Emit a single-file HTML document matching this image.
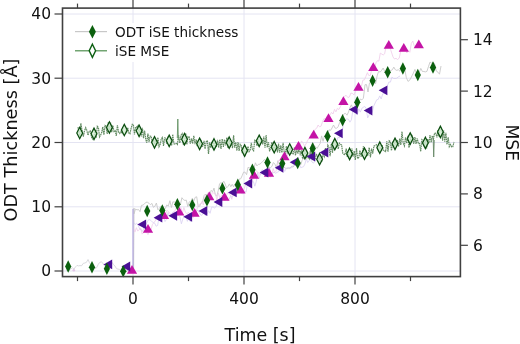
<!DOCTYPE html>
<html><head><meta charset="utf-8"><title>ODT thickness vs time</title>
<style>html,body{margin:0;padding:0;background:#fff;width:520px;height:344px;overflow:hidden}svg{display:block}</style>
</head><body>
<svg width="520" height="344" viewBox="0 0 520 344">
<line x1="133.0" y1="8.1" x2="133.0" y2="276.6" stroke="#e4e4f2" stroke-width="1"/>
<line x1="244.0" y1="8.1" x2="244.0" y2="276.6" stroke="#e4e4f2" stroke-width="1"/>
<line x1="355.0" y1="8.1" x2="355.0" y2="276.6" stroke="#e4e4f2" stroke-width="1"/>
<line x1="62.5" y1="271.0" x2="460.4" y2="271.0" stroke="#e4e4f2" stroke-width="1"/>
<line x1="62.5" y1="206.8" x2="460.4" y2="206.8" stroke="#e4e4f2" stroke-width="1"/>
<line x1="62.5" y1="142.5" x2="460.4" y2="142.5" stroke="#e4e4f2" stroke-width="1"/>
<line x1="62.5" y1="78.2" x2="460.4" y2="78.2" stroke="#e4e4f2" stroke-width="1"/>
<line x1="62.5" y1="14.0" x2="460.4" y2="14.0" stroke="#e4e4f2" stroke-width="1"/>
<path d="M66.0,269.9 L67.6,271.0 L69.2,270.3 L70.8,268.9 L72.4,267.8 L74.0,269.1 L75.5,266.9 L77.0,265.4 L78.5,265.9 L80.0,265.6 L81.6,265.8 L83.2,263.4 L84.8,263.0 L86.4,262.4 L88.0,259.5 L89.4,262.6 L90.8,264.6 L92.2,268.2 L93.6,268.5 L95.0,268.7 L96.7,267.6 L98.3,264.2 L100.0,262.2 L101.4,261.9 L102.8,263.1 L104.2,265.5 L105.6,266.9 L107.0,267.3 L108.7,263.8 L110.3,263.5 L112.0,262.2 L113.5,264.7 L115.0,266.0 L116.5,268.7 L118.0,269.1 L119.5,269.4 L121.0,270.5 L122.5,268.7 L124.0,269.0 L125.5,268.2 L127.0,271.2 L128.5,269.6 L130.0,269.6 L131.7,270.8 L133.3,270.0" fill="none" stroke="#d6d6da" stroke-width="0.9"/>
<path d="M133.6,270 L134,208 L134.0,213.8 L135.5,209.0 L137.0,209.9 L138.5,209.5 L140.0,211.7 L141.5,205.3 L143.0,205.1 L144.5,203.9 L146.0,202.2 L147.5,202.3 L149.0,203.3 L150.4,204.7 L151.9,203.4 L153.4,207.3 L154.9,206.2 L156.4,203.0 L157.9,209.8 L159.3,208.3 L160.8,206.3 L162.3,208.7 L163.8,209.2 L165.3,208.6 L166.8,204.9 L168.3,206.1 L169.9,200.7 L171.4,207.5 L172.9,201.8 L174.4,202.0 L175.9,202.6 L177.4,203.3 L178.9,202.6 L180.4,204.6 L181.9,197.7 L183.4,199.6 L184.9,200.5 L186.3,200.1 L187.8,206.6 L189.3,201.7 L190.8,202.1 L192.3,198.2 L193.8,200.9 L195.2,197.3 L196.7,196.8 L198.2,206.6 L199.7,206.1 L201.1,203.2 L202.6,202.0 L204.1,195.6 L205.5,194.0 L207.0,197.2 L208.4,192.5 L209.8,194.5 L211.2,190.3 L212.6,191.8 L214.0,188.1 L215.4,195.2 L216.8,196.1 L218.2,190.8 L219.6,183.7 L221.0,182.6 L222.4,183.5 L223.8,181.2 L225.2,184.1 L226.6,187.9 L228.0,186.3 L229.4,183.9 L230.8,186.7 L232.2,184.3 L233.6,186.8 L235.0,184.0 L236.4,189.0 L237.8,185.1 L239.3,178.9 L240.7,178.8 L242.2,175.6 L243.6,172.1 L245.1,172.2 L246.6,174.7 L248.0,167.4 L249.5,167.9 L250.9,167.2 L252.4,166.1 L253.9,168.9 L255.4,162.8 L256.9,165.9 L258.4,164.3 L259.9,164.2 L261.5,162.7 L263.0,161.2 L264.5,159.4 L266.0,161.3 L267.5,167.3 L269.0,167.5 L270.5,167.5 L271.9,166.5 L273.4,162.5 L274.9,164.1 L276.4,168.0 L277.9,160.7 L279.3,164.0 L280.8,166.5 L282.3,165.5 L283.8,166.5 L285.4,168.3 L286.9,168.3 L288.5,168.2 L290.0,168.2 L291.5,166.4 L293.1,167.1 L294.6,165.2 L296.2,164.6 L297.7,161.6 L299.2,162.5 L300.7,164.9 L302.2,160.1 L303.7,158.2 L305.2,157.8 L306.7,154.9 L308.2,155.7 L309.7,153.2 L311.2,146.4 L312.7,142.4 L314.2,145.8 L315.7,146.8 L317.1,148.4 L318.6,145.8 L320.1,143.7 L321.6,135.9 L323.1,141.3 L324.5,135.7 L326.0,138.8 L327.5,132.6 L329.0,129.8 L330.5,130.4 L332.0,128.0 L333.5,125.0 L335.1,128.1 L336.6,128.3 L338.1,126.7 L339.6,122.7 L341.1,118.0 L342.6,116.0 L344.1,113.8 L345.5,113.4 L347.0,115.2 L348.5,112.1 L350.0,107.5 L351.4,104.8 L352.9,108.9 L354.4,106.6 L355.8,104.8 L357.3,103.1 L358.8,102.1 L360.4,99.0 L361.9,99.9 L363.4,98.2 L365.0,84.7 L366.5,84.6 L368.0,92.0 L369.5,82.9 L371.1,81.6 L372.6,83.2 L374.1,80.8 L375.6,83.6 L377.1,75.9 L378.6,71.4 L380.1,72.1 L381.7,70.3 L383.2,68.0 L384.7,71.7 L386.2,72.3 L387.7,71.4 L389.2,69.6 L390.7,70.7 L392.3,69.8 L393.8,67.1 L395.3,69.7 L396.8,70.4 L398.3,69.7 L399.9,71.2 L401.4,65.7 L402.9,65.8 L404.6,68.3 L406.3,77.5 L408.0,81.4 L410.0,79.8 L412.0,75.8 L413.4,73.0 L414.9,69.4 L416.4,73.2 L417.8,73.2 L419.3,72.2 L420.8,68.4 L422.4,71.5 L423.9,71.5 L425.4,71.9 L426.9,71.4 L428.4,66.8 L430.0,62.1 L431.5,63.1 L433.0,62.1 L434.7,64.1 L436.3,71.1 L438.0,72.2 L439.5,74.2 L441.0,66.0" fill="none" stroke="#c8c8c8" stroke-width="0.9"/>
<path d="M133.5,228.3 L134.9,232.1 L136.4,227.7 L137.8,231.1 L139.3,229.3 L140.8,228.3 L142.2,234.1 L143.7,232.4 L145.1,230.9 L146.6,232.5 L148.0,234.6 L149.5,230.9 L150.9,230.2 L152.4,224.6 L153.8,222.7 L155.3,220.9 L156.7,216.7 L158.2,215.5 L159.6,214.2 L161.1,214.6 L162.5,214.4 L164.0,213.3 L165.5,214.2 L167.1,210.3 L168.6,211.8 L170.1,213.5 L171.7,215.8 L173.2,212.1 L174.7,211.2 L176.2,207.8 L177.8,208.3 L179.3,207.1 L180.8,207.2 L182.4,213.0 L183.9,207.5 L185.4,212.3 L186.9,213.6 L188.5,212.5 L190.0,214.2 L191.5,215.4 L193.1,217.7 L194.6,215.2 L196.1,211.0 L197.5,207.9 L199.0,204.3 L200.5,204.4 L201.9,201.5 L203.4,204.8 L204.9,197.0 L206.4,195.1 L207.8,193.5 L209.3,191.8 L210.8,199.9 L212.3,191.9 L213.9,193.4 L215.4,193.5 L216.9,200.2 L218.4,192.9 L219.9,198.1 L221.5,195.6 L223.0,195.9 L224.5,194.6 L226.0,197.1 L227.4,192.9 L228.9,193.4 L230.3,194.7 L231.8,199.3 L233.2,189.1 L234.7,195.0 L236.1,196.2 L237.6,192.3 L239.0,192.2 L240.5,189.5 L242.0,193.1 L243.5,190.1 L245.0,186.4 L246.5,183.5 L248.0,181.3 L249.5,179.4 L251.0,175.6 L252.5,181.5 L254.0,172.1 L255.5,170.0 L257.0,171.8 L258.5,172.6 L260.0,174.5 L261.5,173.8 L263.0,173.4 L264.5,174.6 L266.0,177.1 L267.5,174.1 L269.0,172.6 L270.4,177.2 L271.8,175.0 L273.2,168.5 L274.6,172.7 L276.0,171.2 L277.5,165.6 L278.9,160.1 L280.3,160.8 L281.7,157.1 L283.1,153.7 L284.5,151.8 L285.9,151.6 L287.3,155.8 L288.7,153.0 L290.1,148.0 L291.5,151.1 L292.9,150.5 L294.3,152.0 L295.7,153.5 L297.1,149.7 L298.5,147.2 L300.0,145.6 L301.5,140.9 L303.1,143.3 L304.6,146.2 L306.1,143.7 L307.6,140.5 L309.1,138.3 L310.7,134.9 L312.2,132.5 L313.7,131.9 L315.2,129.2 L316.7,128.2 L318.1,125.0 L319.6,126.8 L321.1,126.1 L322.6,121.4 L324.1,118.5 L325.5,119.1 L327.0,122.1 L328.5,117.4 L330.0,114.9 L331.5,112.4 L333.0,114.0 L334.5,109.4 L335.9,111.8 L337.4,108.4 L338.9,109.5 L340.4,106.7 L341.9,103.6 L343.4,97.4 L344.9,95.8 L346.4,95.6 L347.9,97.6 L349.4,96.9 L350.9,93.0 L352.5,93.5 L354.0,94.9 L355.5,91.6 L357.0,88.3 L358.5,86.0 L360.0,87.1 L361.5,86.0 L362.9,80.1 L364.4,79.9 L365.9,76.3 L367.4,72.7 L368.9,75.7 L370.3,75.3 L371.8,69.5 L373.3,67.8 L374.7,67.3 L376.1,62.6 L377.5,60.7 L378.9,61.1 L380.3,53.1 L381.8,54.1 L383.2,55.0 L384.6,53.8 L386.0,46.8 L387.4,46.9 L388.8,42.6 L390.9,50.4 L393.0,56.9 L394.5,59.0 L396.0,58.3 L397.5,59.5 L399.2,58.2 L401.0,49.9 L402.4,50.6 L403.8,50.2 L405.3,48.3 L406.8,53.0 L408.3,50.5 L409.8,52.3 L411.3,43.5 L412.8,41.1 L414.3,46.1 L415.8,47.6 L417.3,45.4 L418.8,44.9" fill="none" stroke="#f0cdea" stroke-width="0.85"/>
<path d="M133.5,222.1 L135.1,224.5 L136.7,223.1 L138.2,225.5 L139.8,229.1 L141.4,229.8 L142.9,231.6 L144.3,225.4 L145.8,224.9 L147.3,221.8 L148.8,219.5 L150.2,220.0 L151.7,221.4 L153.2,222.5 L154.7,223.2 L156.1,226.2 L157.6,225.5 L159.1,217.3 L160.6,218.8 L162.0,216.8 L163.5,215.9 L165.0,221.5 L166.5,219.3 L168.0,212.5 L169.4,216.0 L170.9,215.8 L172.4,212.6 L173.9,212.1 L175.4,212.7 L176.9,215.1 L178.4,215.1 L179.9,216.8 L181.4,223.8 L182.9,218.8 L184.4,216.0 L185.9,216.4 L187.4,221.3 L188.9,217.2 L190.4,221.9 L192.0,215.0 L193.5,211.9 L195.0,213.2 L196.5,210.9 L198.0,210.2 L199.6,213.2 L201.1,215.5 L202.6,214.4 L204.1,212.0 L205.6,215.7 L207.1,214.1 L208.6,210.7 L210.1,213.3 L211.6,207.2 L213.1,207.0 L214.6,208.2 L216.1,206.2 L217.6,202.8 L219.0,203.5 L220.5,200.5 L221.9,198.3 L223.4,195.1 L224.8,200.8 L226.2,197.3 L227.7,200.7 L229.1,199.5 L230.6,196.2 L232.0,197.1 L233.4,196.0 L234.8,194.6 L236.2,188.3 L237.6,189.4 L239.0,192.4 L240.5,192.3 L241.9,193.6 L243.3,193.8 L244.7,191.7 L246.1,192.2 L247.5,183.6 L249.0,182.6 L250.4,177.7 L251.9,182.1 L253.4,181.6 L254.8,186.2 L256.3,181.4 L257.7,172.7 L259.2,178.6 L260.7,172.6 L262.1,169.7 L263.6,170.7 L265.1,174.1 L266.6,171.9 L268.1,172.8 L269.6,166.8 L271.1,174.8 L272.7,172.9 L274.2,172.3 L275.7,173.3 L277.2,172.3 L278.7,171.6 L280.2,167.1 L281.7,167.1 L283.2,168.7 L284.7,171.4 L286.2,168.7 L287.7,167.7 L289.2,167.7 L290.7,168.3 L292.2,167.1 L293.7,164.6 L295.1,162.2 L296.5,166.2 L297.9,165.4 L299.3,163.8 L300.7,167.7 L302.1,167.2 L303.5,166.7 L304.9,164.1 L306.3,158.6 L307.7,162.5 L309.1,160.4 L310.5,159.4 L312.0,162.0 L313.4,163.2 L314.9,161.1 L316.3,158.9 L317.8,162.1 L319.2,161.0 L320.7,154.8 L322.1,157.1 L323.6,156.2 L325.0,153.6 L326.5,153.5 L327.9,151.1 L329.4,152.7 L330.8,148.8 L332.2,146.0 L333.7,146.6 L335.1,140.3 L336.6,141.3 L338.0,137.3 L339.5,138.0 L341.0,130.5 L342.5,129.6 L344.0,121.2 L345.4,119.4 L346.9,118.9 L348.4,119.2 L349.9,122.2 L351.4,119.8 L352.9,110.3 L354.4,108.4 L355.9,114.2 L357.3,114.7 L358.8,108.9 L360.3,112.1 L361.8,108.4 L363.3,107.3 L364.7,106.5 L366.2,108.4 L367.7,117.9 L369.2,114.8 L370.7,110.5 L372.2,112.4 L373.7,106.1 L375.2,102.9 L376.7,99.8 L378.2,99.4 L379.7,95.9 L381.2,99.0 L382.7,93.9 L384.2,93.5 L385.8,91.5 L387.3,86.0 L388.9,82.0 L390.4,82.1 L391.9,77.2 L393.5,78.4 L395.0,78.5 L396.7,78.3 L398.3,76.9 L400.0,76.0" fill="none" stroke="#dad2f2" stroke-width="0.85"/>
<line x1="133" y1="271" x2="133" y2="209" stroke="#aa9cdc" stroke-width="1"/>
<circle cx="73.8" cy="270.3" r="1.3" fill="#e2c4e6"/>
<path d="M78.0,127.1 L79.7,137.3 L80.9,123.4 L82.1,131.0 L83.3,136.5 L84.5,130.9 L85.7,127.7 L86.8,130.3 L88.0,135.3 L89.2,131.2 L90.4,131.0 L91.6,137.3 L92.8,139.0 L94.0,136.4 L95.1,130.2 L96.2,137.9 L97.3,126.4 L98.4,127.5 L99.5,136.9 L100.6,135.2 L101.7,132.5 L102.8,126.8 L103.9,134.8 L105.0,125.5 L106.1,126.1 L107.2,134.0 L108.3,122.2 L109.4,131.9 L110.5,122.7 L111.7,132.2 L112.8,125.4 L114.0,131.4 L115.1,130.7 L116.3,135.9 L117.4,125.4 L118.6,132.0 L119.7,133.4 L120.9,131.6 L122.0,133.1 L123.2,126.8 L124.3,126.3 L125.4,126.0 L126.6,133.2 L127.7,127.6 L128.9,133.1 L130.0,133.8 L131.1,128.3 L132.3,124.4 L133.4,124.9 L134.5,134.4 L135.7,126.9 L136.8,127.0 L138.0,125.6 L139.1,134.1 L140.2,127.2 L141.3,136.4 L142.4,127.8 L143.5,138.2 L144.6,130.5 L145.7,139.0 L146.8,142.8 L147.9,133.6 L149.0,142.1 L150.1,136.1 L151.2,136.3 L152.3,142.9 L153.4,139.1 L154.5,144.2 L155.6,140.2 L156.8,145.4 L157.9,137.5 L159.0,146.7 L160.2,144.3 L161.3,138.7 L162.4,137.4 L163.5,145.9 L164.7,137.9 L165.8,138.2 L166.9,143.8 L168.1,136.1 L169.2,137.4 L170.4,138.1 L171.6,145.6 L172.7,134.4 L173.9,143.8 L175.1,144.3 L176.3,143.5 L177.4,144.5 L178.6,135.4 L179.8,142.8 L181.0,135.2 L182.1,133.6 L183.3,145.0 L184.5,141.7 L185.7,133.1 L186.8,144.4 L188.0,136.5 L189.1,136.8 L190.3,143.6 L191.5,138.5 L192.6,143.6 L193.8,135.9 L195.0,144.2 L196.1,139.4 L197.3,146.2 L198.4,140.6 L199.6,146.4 L200.7,139.8 L201.8,146.5 L202.9,146.1 L204.0,140.8 L205.1,148.9 L206.2,141.7 L207.4,140.5 L208.5,154.0 L209.6,142.3 L210.7,147.8 L211.8,142.1 L212.9,141.2 L214.0,146.6 L215.2,142.2 L216.3,147.0 L217.5,139.8 L218.7,147.7 L219.8,139.4 L221.0,148.9 L222.2,138.9 L223.4,146.8 L224.5,139.6 L225.7,145.3 L226.9,137.5 L228.0,148.0 L229.2,139.7 L230.3,146.8 L231.4,141.2 L232.5,148.2 L233.6,135.2 L234.7,147.6 L235.8,142.1 L236.9,150.6 L238.0,142.2 L239.1,150.9 L240.2,144.4 L241.3,145.7 L242.4,153.3 L243.5,147.3 L244.6,156.7 L245.7,151.6 L246.8,152.6 L248.0,146.3 L249.1,151.6 L250.2,150.0 L251.3,142.8 L252.5,149.8 L253.6,150.8 L254.7,140.2 L255.8,140.9 L257.0,145.9 L258.1,139.2 L259.2,145.3 L260.4,144.1 L261.5,138.1 L262.7,144.5 L263.8,136.5 L265.0,147.7 L266.1,135.1 L267.3,147.5 L268.4,142.0 L269.6,151.3 L270.7,147.7 L271.9,142.1 L273.0,150.9 L274.2,144.5 L275.3,150.5 L276.4,145.5 L277.5,152.4 L278.6,143.7 L279.7,152.7 L280.8,145.4 L281.9,152.6 L283.1,142.7 L284.2,152.5 L285.3,154.6 L286.4,146.1 L287.5,153.4 L288.6,147.4 L289.7,151.8 L290.9,146.8 L292.0,153.9 L293.2,153.9 L294.4,147.6 L295.5,155.3 L296.7,148.6 L297.9,153.6 L299.1,148.1 L300.2,154.0 L301.4,150.4 L302.6,158.7 L303.7,156.3 L304.9,149.1 L306.0,158.4 L307.2,152.0 L308.3,158.2 L309.4,158.9 L310.6,149.3 L311.7,158.9 L312.8,159.6 L313.9,154.8 L315.1,159.3 L316.2,154.4 L317.3,155.4 L318.5,162.1 L319.6,155.4 L320.8,161.6 L321.9,161.0 L323.1,153.6 L324.3,156.5 L325.4,148.0 L326.6,156.2 L327.8,145.2 L329.0,147.2 L330.1,156.3 L331.3,143.8 L332.5,152.8 L333.6,142.5 L334.8,139.9 L335.9,148.2 L337.1,142.3 L338.2,149.0 L339.4,143.2 L340.5,144.2 L341.6,145.0 L342.8,153.3 L343.9,154.4 L345.0,154.7 L346.2,148.5 L347.3,156.8 L348.5,151.3 L349.6,159.0 L350.7,157.3 L351.9,148.6 L353.0,156.7 L354.2,151.2 L355.3,159.9 L356.5,148.2 L357.6,158.6 L358.8,157.5 L359.9,150.5 L361.1,156.3 L362.2,156.0 L363.4,146.3 L364.5,156.0 L365.7,149.6 L366.9,155.9 L368.0,155.0 L369.2,147.6 L370.4,157.3 L371.6,148.6 L372.7,153.7 L373.9,146.2 L375.1,145.6 L376.3,144.7 L377.4,146.5 L378.6,151.6 L379.8,142.4 L381.0,150.3 L382.1,145.0 L383.3,150.4 L384.5,150.9 L385.6,151.6 L386.8,141.4 L388.0,151.8 L389.2,140.8 L390.3,141.6 L391.5,150.6 L392.7,141.5 L393.8,147.0 L395.0,139.3 L396.2,146.2 L397.3,140.2 L398.5,146.5 L399.7,138.6 L400.8,145.0 L402.0,131.6 L403.2,143.0 L404.4,145.9 L405.5,137.3 L406.7,143.2 L407.9,135.9 L409.0,147.6 L410.2,142.6 L411.4,134.4 L412.5,137.1 L413.7,144.0 L414.9,137.0 L416.0,144.0 L417.2,138.3 L418.4,143.7 L419.6,143.6 L420.7,151.3 L421.9,139.5 L423.1,140.4 L424.2,146.2 L425.4,139.0 L426.6,148.5 L427.7,139.1 L428.9,143.2 L430.0,135.1 L431.2,142.3 L432.3,135.7 L433.5,138.8 L434.6,133.0 L435.8,133.3 L436.9,137.3 L438.1,129.8 L439.2,137.0 L440.4,126.5 L441.5,128.8 L442.6,140.8 L443.7,130.5 L444.8,141.6 L445.9,132.8 L447.0,144.5 L448.2,137.3 L449.3,146.7 L450.5,144.6 L451.7,146.8 L452.8,146.7 L454.0,142.0" fill="none" stroke="#638c63" stroke-width="1.2" stroke-dasharray="1.6 0.6"/>
<path d="M177.3,138 L177.8,119 L178.3,140" fill="none" stroke="#6e9a6e" stroke-width="1"/>
<path d="M433.2,138 L433.7,157 L434.2,140" fill="none" stroke="#6e8e6e" stroke-width="1"/>
<path d="M79.7,127.3 L82.6,133.0 L79.7,138.7 L76.8,133.0 Z" fill="#d4efd4" fill-opacity="0.8" stroke="#0b4d0f" stroke-width="1.25"/>
<path d="M94.0,128.1 L96.9,133.8 L94.0,139.5 L91.1,133.8 Z" fill="#d4efd4" fill-opacity="0.8" stroke="#0b4d0f" stroke-width="1.25"/>
<path d="M109.4,121.8 L112.3,127.5 L109.4,133.2 L106.5,127.5 Z" fill="#d4efd4" fill-opacity="0.8" stroke="#0b4d0f" stroke-width="1.25"/>
<path d="M124.3,124.3 L127.2,130.0 L124.3,135.7 L121.4,130.0 Z" fill="#d4efd4" fill-opacity="0.8" stroke="#0b4d0f" stroke-width="1.25"/>
<path d="M139.1,125.1 L142.0,130.8 L139.1,136.5 L136.2,130.8 Z" fill="#d4efd4" fill-opacity="0.8" stroke="#0b4d0f" stroke-width="1.25"/>
<path d="M154.5,136.6 L157.4,142.3 L154.5,148.0 L151.6,142.3 Z" fill="#d4efd4" fill-opacity="0.8" stroke="#0b4d0f" stroke-width="1.25"/>
<path d="M169.2,135.1 L172.1,140.8 L169.2,146.5 L166.3,140.8 Z" fill="#d4efd4" fill-opacity="0.8" stroke="#0b4d0f" stroke-width="1.25"/>
<path d="M184.5,133.5 L187.4,139.2 L184.5,144.9 L181.6,139.2 Z" fill="#d4efd4" fill-opacity="0.8" stroke="#0b4d0f" stroke-width="1.25"/>
<path d="M199.6,138.1 L202.5,143.8 L199.6,149.5 L196.7,143.8 Z" fill="#d4efd4" fill-opacity="0.8" stroke="#0b4d0f" stroke-width="1.25"/>
<path d="M214.0,138.7 L216.9,144.4 L214.0,150.1 L211.1,144.4 Z" fill="#d4efd4" fill-opacity="0.8" stroke="#0b4d0f" stroke-width="1.25"/>
<path d="M229.2,137.0 L232.1,142.7 L229.2,148.4 L226.3,142.7 Z" fill="#d4efd4" fill-opacity="0.8" stroke="#0b4d0f" stroke-width="1.25"/>
<path d="M244.6,144.9 L247.5,150.6 L244.6,156.3 L241.7,150.6 Z" fill="#d4efd4" fill-opacity="0.8" stroke="#0b4d0f" stroke-width="1.25"/>
<path d="M259.2,135.1 L262.1,140.8 L259.2,146.5 L256.3,140.8 Z" fill="#d4efd4" fill-opacity="0.8" stroke="#0b4d0f" stroke-width="1.25"/>
<path d="M274.2,141.5 L277.1,147.2 L274.2,152.9 L271.3,147.2 Z" fill="#d4efd4" fill-opacity="0.8" stroke="#0b4d0f" stroke-width="1.25"/>
<path d="M289.7,143.8 L292.6,149.5 L289.7,155.2 L286.8,149.5 Z" fill="#d4efd4" fill-opacity="0.8" stroke="#0b4d0f" stroke-width="1.25"/>
<path d="M304.9,147.4 L307.8,153.1 L304.9,158.8 L302.0,153.1 Z" fill="#d4efd4" fill-opacity="0.8" stroke="#0b4d0f" stroke-width="1.25"/>
<path d="M319.6,153.5 L322.5,159.2 L319.6,164.9 L316.7,159.2 Z" fill="#d4efd4" fill-opacity="0.8" stroke="#0b4d0f" stroke-width="1.25"/>
<path d="M334.8,138.5 L337.7,144.2 L334.8,149.9 L331.9,144.2 Z" fill="#d4efd4" fill-opacity="0.8" stroke="#0b4d0f" stroke-width="1.25"/>
<path d="M349.6,148.2 L352.5,153.9 L349.6,159.6 L346.7,153.9 Z" fill="#d4efd4" fill-opacity="0.8" stroke="#0b4d0f" stroke-width="1.25"/>
<path d="M364.5,148.0 L367.4,153.7 L364.5,159.4 L361.6,153.7 Z" fill="#d4efd4" fill-opacity="0.8" stroke="#0b4d0f" stroke-width="1.25"/>
<path d="M379.8,142.0 L382.7,147.7 L379.8,153.4 L376.9,147.7 Z" fill="#d4efd4" fill-opacity="0.8" stroke="#0b4d0f" stroke-width="1.25"/>
<path d="M395.0,138.1 L397.9,143.8 L395.0,149.5 L392.1,143.8 Z" fill="#d4efd4" fill-opacity="0.8" stroke="#0b4d0f" stroke-width="1.25"/>
<path d="M410.2,132.9 L413.1,138.6 L410.2,144.3 L407.3,138.6 Z" fill="#d4efd4" fill-opacity="0.8" stroke="#0b4d0f" stroke-width="1.25"/>
<path d="M425.4,137.2 L428.3,142.9 L425.4,148.6 L422.5,142.9 Z" fill="#d4efd4" fill-opacity="0.8" stroke="#0b4d0f" stroke-width="1.25"/>
<path d="M440.4,126.2 L443.3,131.9 L440.4,137.6 L437.5,131.9 Z" fill="#d4efd4" fill-opacity="0.8" stroke="#0b4d0f" stroke-width="1.25"/>
<path d="M132.0,265.1 L137.1,273.8 L126.9,273.8 Z" fill="#c414a6"/>
<path d="M148.0,224.1 L153.1,232.8 L142.9,232.8 Z" fill="#c414a6"/>
<path d="M164.0,210.2 L169.1,218.9 L158.9,218.9 Z" fill="#c414a6"/>
<path d="M179.3,206.9 L184.4,215.6 L174.2,215.6 Z" fill="#c414a6"/>
<path d="M194.6,208.1 L199.7,216.8 L189.5,216.8 Z" fill="#c414a6"/>
<path d="M209.3,191.6 L214.4,200.3 L204.2,200.3 Z" fill="#c414a6"/>
<path d="M224.5,192.0 L229.6,200.7 L219.4,200.7 Z" fill="#c414a6"/>
<path d="M240.5,184.8 L245.6,193.5 L235.4,193.5 Z" fill="#c414a6"/>
<path d="M254.0,170.0 L259.1,178.7 L248.9,178.7 Z" fill="#c414a6"/>
<path d="M269.0,168.1 L274.1,176.8 L263.9,176.8 Z" fill="#c414a6"/>
<path d="M284.5,151.6 L289.6,160.3 L279.4,160.3 Z" fill="#c414a6"/>
<path d="M298.5,141.0 L303.6,149.7 L293.4,149.7 Z" fill="#c414a6"/>
<path d="M313.7,129.8 L318.8,138.5 L308.6,138.5 Z" fill="#c414a6"/>
<path d="M328.5,113.3 L333.6,122.0 L323.4,122.0 Z" fill="#c414a6"/>
<path d="M343.4,96.3 L348.5,105.0 L338.3,105.0 Z" fill="#c414a6"/>
<path d="M358.5,82.1 L363.6,90.8 L353.4,90.8 Z" fill="#c414a6"/>
<path d="M373.3,62.3 L378.4,71.0 L368.2,71.0 Z" fill="#c414a6"/>
<path d="M388.8,40.1 L393.9,48.8 L383.7,48.8 Z" fill="#c414a6"/>
<path d="M403.8,43.1 L408.9,51.8 L398.7,51.8 Z" fill="#c414a6"/>
<path d="M418.8,39.5 L423.9,48.2 L413.7,48.2 Z" fill="#c414a6"/>
<path d="M103.5,264.4 L112.2,259.5 L112.2,269.3 Z" fill="#4a0f96"/>
<path d="M121.5,266.5 L130.2,261.6 L130.2,271.4 Z" fill="#4a0f96"/>
<path d="M137.4,224.4 L146.1,219.5 L146.1,229.3 Z" fill="#4a0f96"/>
<path d="M153.6,217.7 L162.3,212.8 L162.3,222.6 Z" fill="#4a0f96"/>
<path d="M168.4,215.8 L177.1,210.9 L177.1,220.7 Z" fill="#4a0f96"/>
<path d="M183.4,216.8 L192.1,211.9 L192.1,221.7 Z" fill="#4a0f96"/>
<path d="M198.6,211.0 L207.3,206.1 L207.3,215.9 Z" fill="#4a0f96"/>
<path d="M213.6,202.0 L222.3,197.1 L222.3,206.9 Z" fill="#4a0f96"/>
<path d="M228.0,192.4 L236.7,187.5 L236.7,197.3 Z" fill="#4a0f96"/>
<path d="M243.5,183.5 L252.2,178.6 L252.2,188.4 Z" fill="#4a0f96"/>
<path d="M259.6,172.5 L268.3,167.6 L268.3,177.4 Z" fill="#4a0f96"/>
<path d="M274.7,167.8 L283.4,162.9 L283.4,172.7 Z" fill="#4a0f96"/>
<path d="M289.7,162.2 L298.4,157.3 L298.4,167.1 Z" fill="#4a0f96"/>
<path d="M306.5,156.5 L315.2,151.6 L315.2,161.4 Z" fill="#4a0f96"/>
<path d="M319.6,152.5 L328.3,147.6 L328.3,157.4 Z" fill="#4a0f96"/>
<path d="M334.0,133.3 L342.7,128.4 L342.7,138.2 Z" fill="#4a0f96"/>
<path d="M348.9,109.6 L357.6,104.7 L357.6,114.5 Z" fill="#4a0f96"/>
<path d="M363.7,110.6 L372.4,105.7 L372.4,115.5 Z" fill="#4a0f96"/>
<path d="M378.7,90.3 L387.4,85.4 L387.4,95.2 Z" fill="#4a0f96"/>
<path d="M68.2,260.3 L71.3,266.5 L68.2,272.7 L65.1,266.5 Z" fill="#0b600e"/>
<path d="M92.0,261.1 L95.1,267.3 L92.0,273.5 L88.9,267.3 Z" fill="#0b600e"/>
<path d="M106.9,262.6 L110.0,268.8 L106.9,275.0 L103.8,268.8 Z" fill="#0b600e"/>
<path d="M123.2,265.0 L126.3,271.2 L123.2,277.4 L120.1,271.2 Z" fill="#0b600e"/>
<path d="M147.2,204.8 L150.3,211.0 L147.2,217.2 L144.1,211.0 Z" fill="#0b600e"/>
<path d="M162.3,204.2 L165.4,210.4 L162.3,216.6 L159.2,210.4 Z" fill="#0b600e"/>
<path d="M177.4,198.1 L180.5,204.3 L177.4,210.5 L174.3,204.3 Z" fill="#0b600e"/>
<path d="M192.3,198.9 L195.4,205.1 L192.3,211.3 L189.2,205.1 Z" fill="#0b600e"/>
<path d="M207.0,194.2 L210.1,200.4 L207.0,206.6 L203.9,200.4 Z" fill="#0b600e"/>
<path d="M222.4,182.2 L225.5,188.4 L222.4,194.6 L219.3,188.4 Z" fill="#0b600e"/>
<path d="M237.8,178.6 L240.9,184.8 L237.8,191.0 L234.7,184.8 Z" fill="#0b600e"/>
<path d="M252.4,163.5 L255.5,169.7 L252.4,175.9 L249.3,169.7 Z" fill="#0b600e"/>
<path d="M267.5,156.3 L270.6,162.5 L267.5,168.7 L264.4,162.5 Z" fill="#0b600e"/>
<path d="M282.3,157.4 L285.4,163.6 L282.3,169.8 L279.2,163.6 Z" fill="#0b600e"/>
<path d="M297.7,156.9 L300.8,163.1 L297.7,169.3 L294.6,163.1 Z" fill="#0b600e"/>
<path d="M312.7,142.3 L315.8,148.5 L312.7,154.7 L309.6,148.5 Z" fill="#0b600e"/>
<path d="M327.5,130.1 L330.6,136.3 L327.5,142.5 L324.4,136.3 Z" fill="#0b600e"/>
<path d="M342.6,114.0 L345.7,120.2 L342.6,126.4 L339.5,120.2 Z" fill="#0b600e"/>
<path d="M357.3,96.1 L360.4,102.3 L357.3,108.5 L354.2,102.3 Z" fill="#0b600e"/>
<path d="M372.6,74.5 L375.7,80.7 L372.6,86.9 L369.5,80.7 Z" fill="#0b600e"/>
<path d="M387.7,66.1 L390.8,72.3 L387.7,78.5 L384.6,72.3 Z" fill="#0b600e"/>
<path d="M402.9,62.3 L406.0,68.5 L402.9,74.7 L399.8,68.5 Z" fill="#0b600e"/>
<path d="M417.8,68.8 L420.9,75.0 L417.8,81.2 L414.7,75.0 Z" fill="#0b600e"/>
<path d="M433.0,61.3 L436.1,67.5 L433.0,73.7 L429.9,67.5 Z" fill="#0b600e"/>
<rect x="62.5" y="8.1" width="397.9" height="268.5" fill="none" stroke="#404040" stroke-width="1.6"/>
<line x1="54.5" y1="271.0" x2="62.5" y2="271.0" stroke="#404040" stroke-width="1.2"/>
<line x1="54.5" y1="206.8" x2="62.5" y2="206.8" stroke="#404040" stroke-width="1.2"/>
<line x1="54.5" y1="142.5" x2="62.5" y2="142.5" stroke="#404040" stroke-width="1.2"/>
<line x1="54.5" y1="78.2" x2="62.5" y2="78.2" stroke="#404040" stroke-width="1.2"/>
<line x1="54.5" y1="14.0" x2="62.5" y2="14.0" stroke="#404040" stroke-width="1.2"/>
<line x1="460.4" y1="245.3" x2="467.9" y2="245.3" stroke="#404040" stroke-width="1.2"/>
<line x1="460.4" y1="193.9" x2="467.9" y2="193.9" stroke="#404040" stroke-width="1.2"/>
<line x1="460.4" y1="142.5" x2="467.9" y2="142.5" stroke="#404040" stroke-width="1.2"/>
<line x1="460.4" y1="91.1" x2="467.9" y2="91.1" stroke="#404040" stroke-width="1.2"/>
<line x1="460.4" y1="39.7" x2="467.9" y2="39.7" stroke="#404040" stroke-width="1.2"/>
<line x1="133.0" y1="276.6" x2="133.0" y2="284.6" stroke="#404040" stroke-width="1.2"/>
<line x1="133.0" y1="8.1" x2="133.0" y2="0.09999999999999964" stroke="#404040" stroke-width="1.2"/>
<line x1="244.0" y1="276.6" x2="244.0" y2="284.6" stroke="#404040" stroke-width="1.2"/>
<line x1="244.0" y1="8.1" x2="244.0" y2="0.09999999999999964" stroke="#404040" stroke-width="1.2"/>
<line x1="355.0" y1="276.6" x2="355.0" y2="284.6" stroke="#404040" stroke-width="1.2"/>
<line x1="355.0" y1="8.1" x2="355.0" y2="0.09999999999999964" stroke="#404040" stroke-width="1.2"/>
<line x1="77.5" y1="276.6" x2="77.5" y2="281.1" stroke="#404040" stroke-width="1.2"/>
<line x1="77.5" y1="8.1" x2="77.5" y2="3.5999999999999996" stroke="#404040" stroke-width="1.2"/>
<line x1="188.5" y1="276.6" x2="188.5" y2="281.1" stroke="#404040" stroke-width="1.2"/>
<line x1="188.5" y1="8.1" x2="188.5" y2="3.5999999999999996" stroke="#404040" stroke-width="1.2"/>
<line x1="299.5" y1="276.6" x2="299.5" y2="281.1" stroke="#404040" stroke-width="1.2"/>
<line x1="299.5" y1="8.1" x2="299.5" y2="3.5999999999999996" stroke="#404040" stroke-width="1.2"/>
<line x1="410.5" y1="276.6" x2="410.5" y2="281.1" stroke="#404040" stroke-width="1.2"/>
<line x1="410.5" y1="8.1" x2="410.5" y2="3.5999999999999996" stroke="#404040" stroke-width="1.2"/>
<rect x="68" y="23" width="173" height="39" fill="#fff"/>
<line x1="75" y1="31.6" x2="107" y2="31.6" stroke="#c8c8c8" stroke-width="1.2"/>
<path d="M92.4,25.0 L95.9,31.7 L92.4,38.4 L88.9,31.7 Z" fill="#0b600e"/>
<line x1="75" y1="50.8" x2="107" y2="50.8" stroke="#4f8f4f" stroke-width="1.2"/>
<path d="M92.4,44.2 L95.6,50.8 L92.4,57.4 L89.2,50.8 Z" fill="#ffffff" stroke="#0c5f12" stroke-width="1.4"/>
<text x="115" y="36.7" font-family="DejaVu Sans, Liberation Sans, sans-serif" font-size="13.6" fill="#111">ODT iSE thickness</text>
<text x="115" y="55.6" font-family="DejaVu Sans, Liberation Sans, sans-serif" font-size="13.6" fill="#111">iSE MSE</text>
<text x="51" y="276.4" font-family="DejaVu Sans, Liberation Sans, sans-serif" font-size="15.5" text-anchor="end" fill="#111">0</text>
<text x="51" y="212.2" font-family="DejaVu Sans, Liberation Sans, sans-serif" font-size="15.5" text-anchor="end" fill="#111">10</text>
<text x="51" y="147.9" font-family="DejaVu Sans, Liberation Sans, sans-serif" font-size="15.5" text-anchor="end" fill="#111">20</text>
<text x="51" y="83.7" font-family="DejaVu Sans, Liberation Sans, sans-serif" font-size="15.5" text-anchor="end" fill="#111">30</text>
<text x="51" y="19.4" font-family="DejaVu Sans, Liberation Sans, sans-serif" font-size="15.5" text-anchor="end" fill="#111">40</text>
<text x="473" y="250.7" font-family="DejaVu Sans, Liberation Sans, sans-serif" font-size="15.5" fill="#111">6</text>
<text x="473" y="199.3" font-family="DejaVu Sans, Liberation Sans, sans-serif" font-size="15.5" fill="#111">8</text>
<text x="473" y="147.9" font-family="DejaVu Sans, Liberation Sans, sans-serif" font-size="15.5" fill="#111">10</text>
<text x="473" y="96.5" font-family="DejaVu Sans, Liberation Sans, sans-serif" font-size="15.5" fill="#111">12</text>
<text x="473" y="45.1" font-family="DejaVu Sans, Liberation Sans, sans-serif" font-size="15.5" fill="#111">14</text>
<text x="133.0" y="303.6" font-family="DejaVu Sans, Liberation Sans, sans-serif" font-size="15.5" text-anchor="middle" fill="#111">0</text>
<text x="244.0" y="303.6" font-family="DejaVu Sans, Liberation Sans, sans-serif" font-size="15.5" text-anchor="middle" fill="#111">400</text>
<text x="355.0" y="303.6" font-family="DejaVu Sans, Liberation Sans, sans-serif" font-size="15.5" text-anchor="middle" fill="#111">800</text>
<text x="260" y="340.8" font-family="DejaVu Sans, Liberation Sans, sans-serif" font-size="17.45" text-anchor="middle" fill="#111">Time [s]</text>
<text transform="translate(16.6,140) rotate(-90)" font-family="DejaVu Sans, Liberation Sans, sans-serif" font-size="17.7" text-anchor="middle" fill="#111">ODT Thickness [Å]</text>
<text transform="translate(506,142.7) rotate(90)" font-family="DejaVu Sans, Liberation Sans, sans-serif" font-size="17.2" text-anchor="middle" fill="#111">MSE</text>
</svg>
</body></html>
